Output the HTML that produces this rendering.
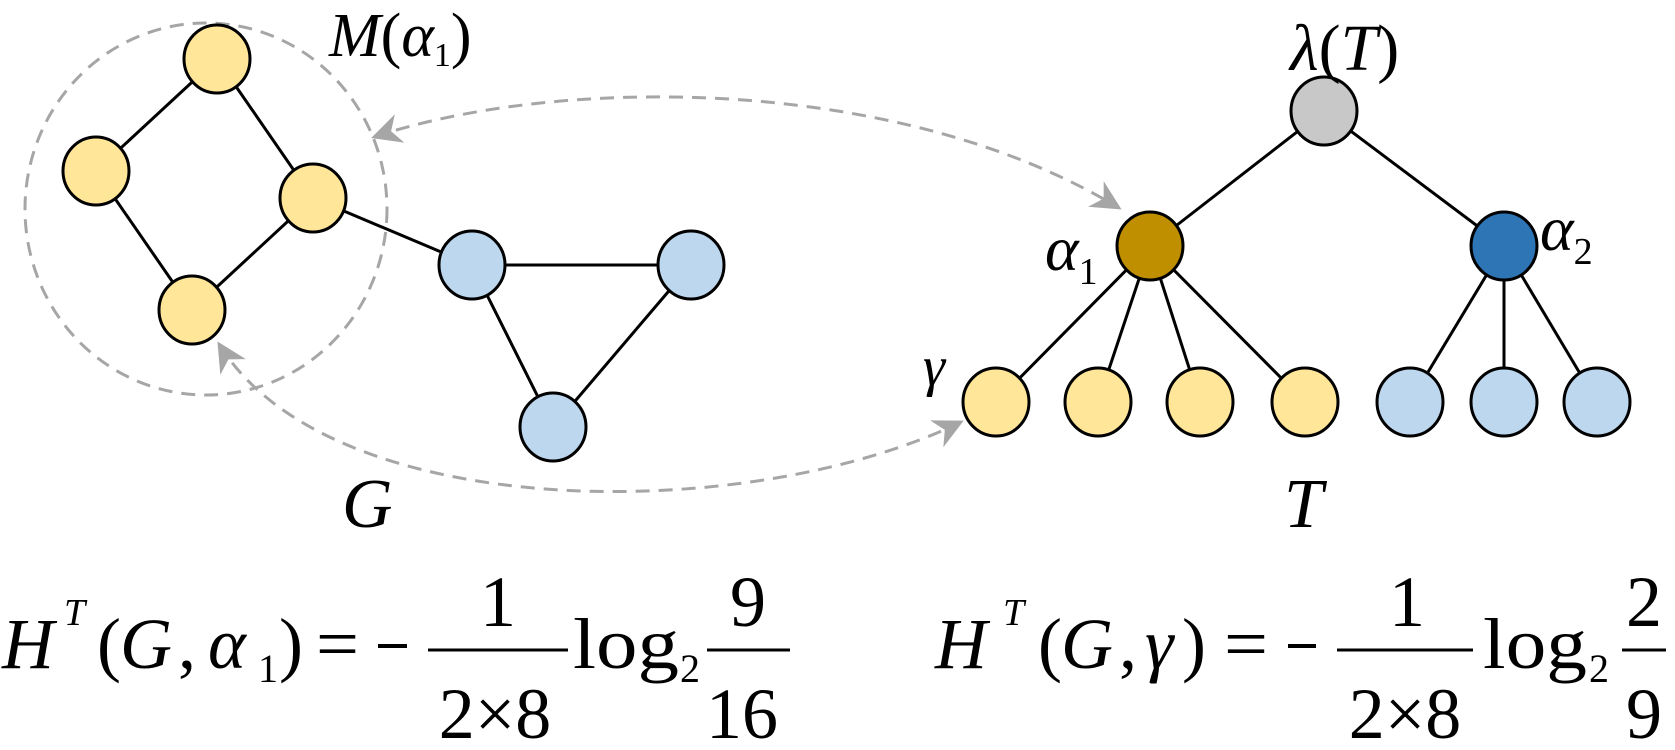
<!DOCTYPE html>
<html><head><meta charset="utf-8"><style>
html,body{margin:0;padding:0;background:#fff;}
svg{display:block;}
text{font-family:"Liberation Serif",serif;font-style:italic;fill:#000;}
.u{font-style:normal;}
</style></head><body>
<svg width="1675" height="750" viewBox="0 0 1675 750" xmlns="http://www.w3.org/2000/svg">
<defs>
<marker id="a2" viewBox="0 0 10 10" refX="9" refY="5" markerWidth="30" markerHeight="30" markerUnits="userSpaceOnUse" orient="auto-start-reverse">
<path d="M0,0 L10,5 L0,10 L3,5 z" fill="#a6a6a6"/>
</marker>
</defs>
<ellipse cx="206" cy="209" rx="181" ry="186" fill="none" stroke="#a6a6a6" stroke-width="3" stroke-dasharray="14,9"/>
<path d="M374,137 C560,75 900,75 1119,208" fill="none" stroke="#a6a6a6" stroke-width="3" stroke-dasharray="14,9" marker-start="url(#a2)" marker-end="url(#a2)"/>
<path d="M219,344 C330,525 750,525 961,422" fill="none" stroke="#a6a6a6" stroke-width="3" stroke-dasharray="14,9" marker-start="url(#a2)" marker-end="url(#a2)"/>
<g stroke="#000" stroke-width="3">
<line x1="217" y1="59" x2="96" y2="171"/>
<line x1="217" y1="59" x2="313" y2="198"/>
<line x1="96" y1="171" x2="192" y2="310"/>
<line x1="313" y1="198" x2="192" y2="310"/>
<line x1="313" y1="198" x2="472" y2="265"/>
<line x1="472" y1="265" x2="691" y2="265"/>
<line x1="472" y1="265" x2="553" y2="427"/>
<line x1="691" y1="265" x2="553" y2="427"/>
<line x1="1324" y1="111" x2="1150" y2="246"/>
<line x1="1324" y1="111" x2="1504" y2="246"/>
<line x1="1150" y1="246" x2="996" y2="402"/>
<line x1="1150" y1="246" x2="1098" y2="402"/>
<line x1="1150" y1="246" x2="1200" y2="402"/>
<line x1="1150" y1="246" x2="1305" y2="402"/>
<line x1="1504" y1="246" x2="1410" y2="402"/>
<line x1="1504" y1="246" x2="1504" y2="402"/>
<line x1="1504" y1="246" x2="1597" y2="402"/>
</g>
<g stroke="#000" stroke-width="3">
<ellipse cx="217" cy="59" rx="33" ry="34" fill="#ffe699"/>
<ellipse cx="96" cy="171" rx="33" ry="34" fill="#ffe699"/>
<ellipse cx="313" cy="198" rx="33" ry="34" fill="#ffe699"/>
<ellipse cx="192" cy="310" rx="33" ry="34" fill="#ffe699"/>
<ellipse cx="472" cy="265" rx="33" ry="34" fill="#bdd7ee"/>
<ellipse cx="691" cy="265" rx="33" ry="34" fill="#bdd7ee"/>
<ellipse cx="553" cy="427" rx="33" ry="34" fill="#bdd7ee"/>
<ellipse cx="1324" cy="111" rx="33" ry="34" fill="#c8c8c8"/>
<ellipse cx="1150" cy="246" rx="33" ry="34" fill="#bf8f00"/>
<ellipse cx="1504" cy="246" rx="33" ry="34" fill="#2e75b6"/>
<ellipse cx="996" cy="402" rx="33" ry="34" fill="#ffe699"/>
<ellipse cx="1098" cy="402" rx="33" ry="34" fill="#ffe699"/>
<ellipse cx="1200" cy="402" rx="33" ry="34" fill="#ffe699"/>
<ellipse cx="1305" cy="402" rx="33" ry="34" fill="#ffe699"/>
<ellipse cx="1410" cy="402" rx="33" ry="34" fill="#bdd7ee"/>
<ellipse cx="1504" cy="402" rx="33" ry="34" fill="#bdd7ee"/>
<ellipse cx="1597" cy="402" rx="33" ry="34" fill="#bdd7ee"/>
</g>
<text x="329" y="56" font-size="62">M<tspan class="u">(</tspan>α<tspan class="u" font-size="34" dy="10">1</tspan><tspan class="u" dy="-10">)</tspan></text>
<text x="1290" y="70" font-size="66">λ<tspan class="u">(</tspan>T<tspan class="u">)</tspan></text>
<text x="1045" y="270" font-size="64">α<tspan class="u" font-size="38" dy="14">1</tspan></text>
<text x="1540" y="250" font-size="64">α<tspan class="u" font-size="38" dy="14">2</tspan></text>
<text x="923" y="385" font-size="56">γ</text>
<text x="342" y="527" font-size="70">G</text>
<text x="1284" y="527" font-size="70">T</text>
<!-- formula left -->
<text x="2" y="668" font-size="72">H</text>
<text x="64" y="625" font-size="38">T</text>
<text x="97" y="668" font-size="72" class="u">(</text>
<text x="120" y="668" font-size="72">G</text>
<text x="178" y="668" font-size="72" class="u">,</text>
<text x="208" y="668" font-size="72">α</text>
<text x="258" y="682" font-size="40" class="u">1</text>
<text x="279" y="668" font-size="72" class="u">)</text>
<text x="316" y="668" font-size="72" class="u" textLength="43" lengthAdjust="spacingAndGlyphs">=</text>
<line x1="378" y1="646" x2="407" y2="646" stroke="#000" stroke-width="4"/>
<line x1="428" y1="650" x2="568" y2="650" stroke="#000" stroke-width="3"/>
<text x="498" y="626" font-size="72" class="u" text-anchor="middle">1</text>
<text x="495" y="738" font-size="72" class="u" text-anchor="middle">2×8</text>
<text x="573" y="668" font-size="72" class="u" textLength="106" lengthAdjust="spacingAndGlyphs">log</text>
<text x="680" y="682" font-size="40" class="u">2</text>
<line x1="707" y1="650" x2="790" y2="650" stroke="#000" stroke-width="3"/>
<text x="748" y="626" font-size="72" class="u" text-anchor="middle">9</text>
<text x="742" y="738" font-size="72" class="u" text-anchor="middle">16</text>
<!-- formula right -->
<text x="935" y="668" font-size="72">H</text>
<text x="1003" y="625" font-size="38">T</text>
<text x="1038" y="668" font-size="72" class="u">(</text>
<text x="1061" y="668" font-size="72">G</text>
<text x="1119" y="668" font-size="72" class="u">,</text>
<text x="1145" y="668" font-size="72">γ</text>
<text x="1182" y="668" font-size="72" class="u">)</text>
<text x="1224" y="668" font-size="72" class="u" textLength="44" lengthAdjust="spacingAndGlyphs">=</text>
<line x1="1288" y1="646" x2="1316" y2="646" stroke="#000" stroke-width="4"/>
<line x1="1337" y1="650" x2="1473" y2="650" stroke="#000" stroke-width="3"/>
<text x="1407" y="626" font-size="72" class="u" text-anchor="middle">1</text>
<text x="1405" y="738" font-size="72" class="u" text-anchor="middle">2×8</text>
<text x="1483" y="668" font-size="72" class="u" textLength="104" lengthAdjust="spacingAndGlyphs">log</text>
<text x="1589" y="682" font-size="40" class="u">2</text>
<line x1="1622" y1="650" x2="1666" y2="650" stroke="#000" stroke-width="3"/>
<text x="1644" y="626" font-size="72" class="u" text-anchor="middle">2</text>
<text x="1644" y="738" font-size="72" class="u" text-anchor="middle">9</text>
</svg>
</body></html>
